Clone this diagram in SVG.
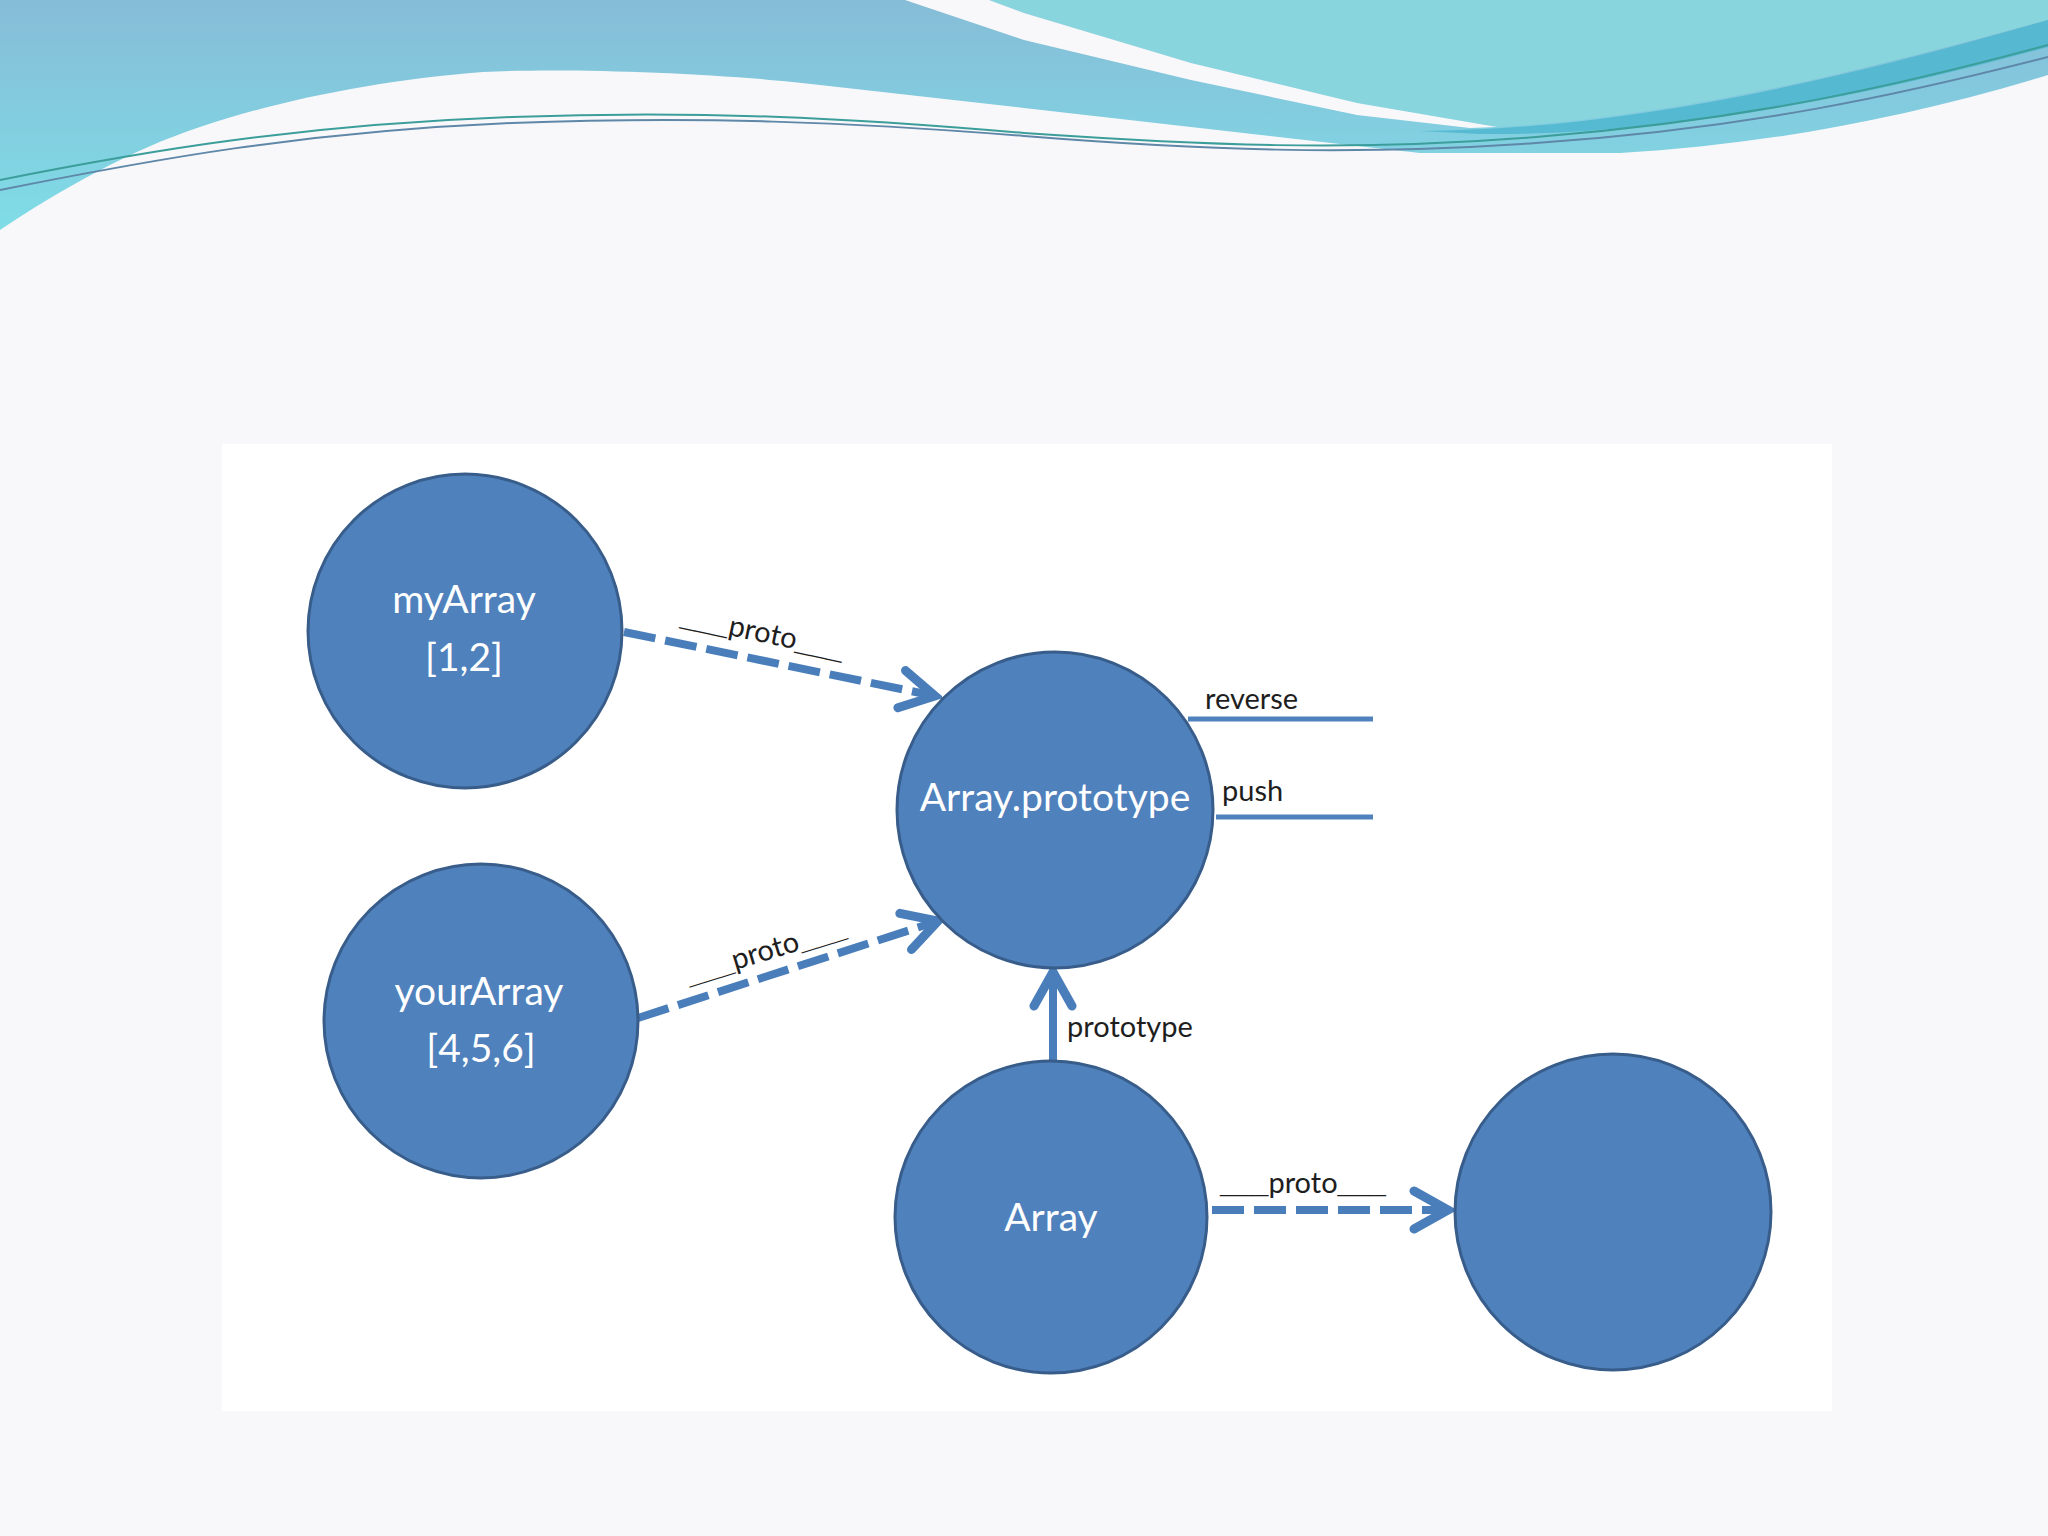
<svg xmlns="http://www.w3.org/2000/svg" width="2048" height="1536" viewBox="0 0 2048 1536">
<defs>
<linearGradient id="bandGrad" x1="0" y1="0" x2="0" y2="230" gradientUnits="userSpaceOnUse">
<stop offset="0" stop-color="#86bcd7"/>
<stop offset="1" stop-color="#7fdde7"/>
</linearGradient>
<marker id="chev" viewBox="-45 -28 52 56" refX="0" refY="0" markerWidth="52" markerHeight="56" markerUnits="userSpaceOnUse" orient="auto">
<path d="M-34,-19 L0,0 L-34,19" fill="none" stroke="#4a7ebb" stroke-width="9" stroke-linecap="round" stroke-linejoin="miter"/>
</marker>
<style>
.node{fill:#4f81bd;stroke:#385d8a;stroke-width:3}
.ntxt{font-family:Lato,"Open Sans",sans-serif;font-size:39px;fill:#ffffff;text-anchor:middle}
.lbl{font-family:Lato,"Open Sans",sans-serif;font-size:29px;fill:#1e1e1e}
.us{font-family:"Liberation Sans",Arial,sans-serif;font-weight:bold}
.dash{fill:none;stroke:#4a7ebb;stroke-width:8;stroke-dasharray:32 10}
.solid{fill:none;stroke:#4a7ebb;stroke-width:8}
.prop{fill:none;stroke:#4f81bd;stroke-width:5}
</style>
</defs>
<rect x="0" y="0" width="2048" height="1536" fill="#f8f8fa"/>
<g id="decoration">
<path d="M0,0 H2048 V75 C1900,120 1760,145 1620,153 L1420,153 L1331,143 L1024,108 L802,83 C700,72 560,68 483,72 C380,80 280,100 200,127 C130,150 60,190 0,230 Z" fill="url(#bandGrad)"/>
<path d="M989,0 H2048 V20 C1900,60 1700,115 1497,127 L1357,103 L1191,63 L1024,13 Z" fill="#89d5de"/>
<path d="M905,0 L989,0 L1024,13 L1191,63 L1357,103 L1497,127 L1470,128 L1357,115 L1191,80 L1024,40 Z" fill="#f8f8fa"/>
<path d="M1420,131 C1600,130 1800,92 2048,20 V47 C1850,102 1650,136 1480,134 Z" fill="#4db6cf" opacity="0.85"/>
<path d="M0,180 C150,150 300,125 512,117 C700,110 850,118 1024,133 C1200,145 1350,152 1536,137 C1750,120 1900,85 2048,45" fill="none" stroke="#3c9e9a" stroke-width="2"/>
<path d="M0,190 C150,160 300,132 512,123 C700,116 850,122 1024,136 C1200,150 1350,156 1536,143 C1750,128 1900,95 2048,57" fill="none" stroke="#5f87a8" stroke-width="2"/>
</g>
<rect id="panel" x="222" y="444" width="1610" height="967" fill="#ffffff"/>
<g id="connectors">
<line class="dash" x1="624" y1="632" x2="935" y2="696" marker-end="url(#chev)"/>
<line class="dash" x1="638" y1="1018" x2="938" y2="921" marker-end="url(#chev)"/>
<line class="solid" x1="1053" y1="1061" x2="1053" y2="972" marker-end="url(#chev)"/>
<line class="dash" x1="1212" y1="1210" x2="1448" y2="1210" marker-end="url(#chev)"/>
<line class="prop" x1="1188" y1="719" x2="1373" y2="719"/>
<line class="prop" x1="1216" y1="817" x2="1373" y2="817"/>
<text class="lbl" text-anchor="middle" transform="translate(761,642) rotate(12)"><tspan class="us">___</tspan>proto<tspan class="us">___</tspan></text>
<text class="lbl" text-anchor="middle" transform="translate(768,960) rotate(-17)"><tspan class="us">___</tspan>proto<tspan class="us">___</tspan></text>
<text class="lbl" x="1067" y="1037">prototype</text>
<text class="lbl" text-anchor="middle" x="1303" y="1193"><tspan class="us">___</tspan>proto<tspan class="us">___</tspan></text>
<text class="lbl" x="1205" y="709">reverse</text>
<text class="lbl" x="1222" y="801">push</text>
</g>
<g id="myArray">
<circle class="node" cx="465" cy="631" r="157"/>
<text class="ntxt" x="464" y="613">myArray</text>
<text class="ntxt" x="464" y="671">[1,2]</text>
</g>
<g id="yourArray">
<circle class="node" cx="481" cy="1021" r="157"/>
<text class="ntxt" x="479" y="1005">yourArray</text>
<text class="ntxt" x="481" y="1062">[4,5,6]</text>
</g>
<g id="arrayPrototype">
<circle class="node" cx="1055" cy="810" r="158"/>
<text class="ntxt" x="1055" y="811">Array.prototype</text>
</g>
<g id="array">
<circle class="node" cx="1051" cy="1217" r="156"/>
<text class="ntxt" x="1051" y="1231">Array</text>
</g>
<g id="objectPrototype">
<circle class="node" cx="1613" cy="1212" r="158"/>
</g>
</svg>
